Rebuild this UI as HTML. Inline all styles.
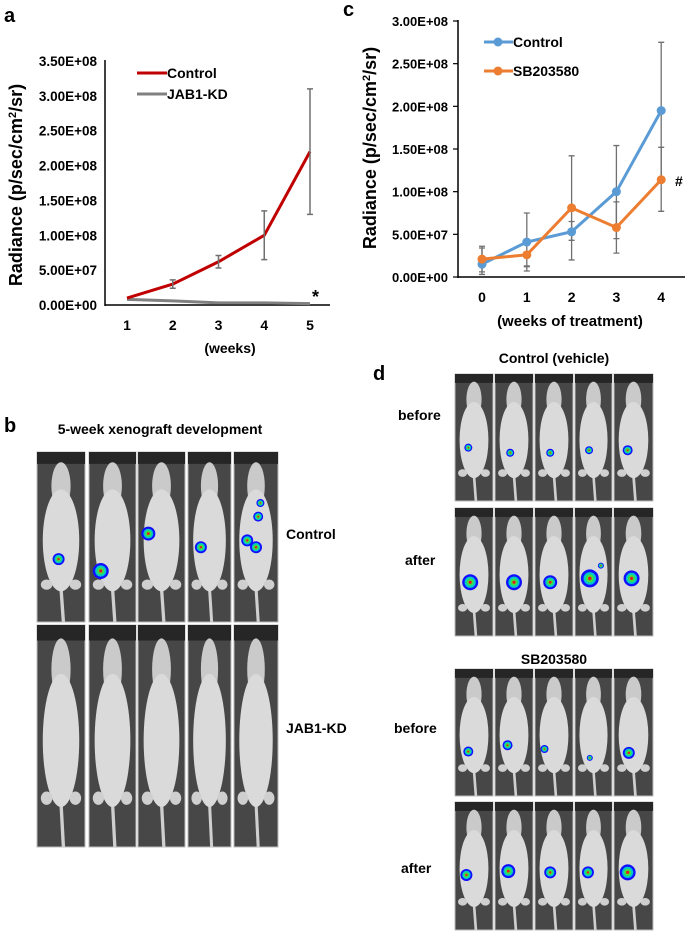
<!DOCTYPE html>
<html><head><meta charset="utf-8">
<style>
html,body{margin:0;padding:0;background:#fff;}
body{width:685px;height:932px;overflow:hidden;font-family:"Liberation Sans",Arial,sans-serif;}
svg text{font-family:"Liberation Sans",Arial,sans-serif;font-weight:bold;}
</style></head>
<body>
<svg id="fig" width="685" height="932" viewBox="0 0 685 932" xmlns="http://www.w3.org/2000/svg">
  <text x="4" y="22" font-size="20">a</text>
  <text x="4" y="432" font-size="20">b</text>
  <text x="343" y="16" font-size="20">c</text>
  <text x="373" y="380" font-size="20">d</text>

  <g id="chartA"></g>
  <g id="chartC"></g>

  <text x="160" y="434" font-size="14" text-anchor="middle">5-week xenograft development</text>
  <text x="286" y="539" font-size="14">Control</text>
  <text x="286" y="733" font-size="14">JAB1-KD</text>

  <text x="554" y="363" font-size="14" text-anchor="middle">Control (vehicle)</text>
  <text x="398" y="420" font-size="14">before</text>
  <text x="405" y="565" font-size="14">after</text>
  <text x="554" y="664" font-size="14" text-anchor="middle">SB203580</text>
  <text x="394" y="733" font-size="14">before</text>
  <text x="401" y="873" font-size="14">after</text>

  <g id="photos"></g>
</svg>
<script>
const NS="http://www.w3.org/2000/svg";
function mk(tag,attrs,parent){const e=document.createElementNS(NS,tag);for(const k in attrs)e.setAttribute(k,attrs[k]);parent.appendChild(e);return e;}

// ---- Chart A data ----
const weeksA=[1,2,3,4,5];
const controlA=[1.0e7,3.0e7,6.2e7,1.0e8,2.2e8];
const controlAErr=[0,0.6e7,0.9e7,3.5e7,9.0e7];
const jabA=[0.8e7,0.6e7,0.3e7,0.3e7,0.2e7];
const ticksA=[0,5e7,1e8,1.5e8,2e8,2.5e8,3e8,3.5e8];
const tickLabelsA=["0.00E+00","5.00E+07","1.00E+08","1.50E+08","2.00E+08","2.50E+08","3.00E+08","3.50E+08"];

(function(){
  const g=document.getElementById('chartA');
  const y=v=>305-(v/3.5e8)*244;
  const x=w=>127+(w-1)*45.75;
  let e=mk('line',{x1:105,y1:60,x2:105,y2:306,stroke:'#000','stroke-width':1.5},g);
  
  
  e=mk('line',{x1:105,y1:305,x2:330,y2:305,stroke:'#000','stroke-width':1.5},g);
  
  
  ticksA.forEach((t,i)=>{
    const tl=mk('text',{x:97,y:y(t)+5,'font-size':13.5,'text-anchor':'end'},g);
    tl.textContent=tickLabelsA[i];
    
    
  });
  weeksA.forEach(w=>{
    const tl=mk('text',{x:x(w),y:330,'font-size':14,'text-anchor':'middle'},g);
    tl.textContent=w;
    
    
  });
  const xt=mk('text',{x:230,y:353,'font-size':14,'text-anchor':'middle'},g);
  xt.textContent='(weeks)';
  
  
  const yt=mk('text',{x:0,y:0,'font-size':18,'text-anchor':'middle',transform:'translate(22,185) rotate(-90)'},g);
  yt.innerHTML='Radiance (p/sec/cm<tspan font-size="11" dy="-6">2</tspan><tspan dy="6">/sr)</tspan>';
  
  
  let p=mk('polyline',{points:weeksA.map((w,i)=>x(w)+','+y(jabA[i])).join(' '),fill:'none',stroke:'#808080','stroke-width':3},g);
  
  
  p=mk('polyline',{points:weeksA.map((w,i)=>x(w)+','+y(controlA[i])).join(' '),fill:'none',stroke:'#c00000','stroke-width':3},g);
  
  
  weeksA.forEach((w,i)=>{
    if(!controlAErr[i])return;
    const lo=y(controlA[i]-controlAErr[i]),hi=y(controlA[i]+controlAErr[i]),xx=x(w);
    const eb=mk('path',{d:`M${xx},${lo}V${hi}M${xx-3},${lo}H${xx+3}M${xx-3},${hi}H${xx+3}`,stroke:'#707070','stroke-width':1.5,fill:'none'},g);
    
    
  });
  const st=mk('text',{x:312,y:303,'font-size':18},g);st.textContent='*';
  
  
  let l=mk('line',{x1:137,y1:73,x2:167,y2:73,stroke:'#c00000','stroke-width':3},g);
  
  
  let lt=mk('text',{x:167,y:78,'font-size':14},g);lt.textContent='Control';
  
  
  l=mk('line',{x1:137,y1:94,x2:167,y2:94,stroke:'#808080','stroke-width':3},g);
  
  
  lt=mk('text',{x:167,y:99,'font-size':14},g);lt.textContent='JAB1-KD';
  
  
})();

// ---- Chart C data ----
const weeksC=[0,1,2,3,4];
const controlC=[1.5e7,4.1e7,5.3e7,1.0e8,1.95e8];
const controlCLo=[0.3e7,1.3e7,4.3e7,4.5e7,1.15e8];
const controlCHi=[3.4e7,7.5e7,6.5e7,1.54e8,2.75e8];
const sbC=[2.1e7,2.6e7,8.1e7,5.8e7,1.14e8];
const sbCLo=[0.6e7,0.7e7,2.0e7,2.8e7,0.77e8];
const sbCHi=[3.6e7,1.2e7,1.42e8,8.8e7,1.52e8];
const ticksC=[0,5e7,1e8,1.5e8,2e8,2.5e8,3e8];
const tickLabelsC=["0.00E+00","5.00E+07","1.00E+08","1.50E+08","2.00E+08","2.50E+08","3.00E+08"];

(function(){
  const g=document.getElementById('chartC');
  const y=v=>277-(v/3e8)*256;
  const x=w=>482+w*44.8;
  let e=mk('line',{x1:458,y1:20,x2:458,y2:278,stroke:'#000','stroke-width':1.5},g);
  
  
  e=mk('line',{x1:458,y1:277,x2:685,y2:277,stroke:'#000','stroke-width':1.5},g);
  
  
  ticksC.forEach((t,i)=>{
    const tk=mk('line',{x1:453,y1:y(t),x2:458,y2:y(t),stroke:'#000','stroke-width':1.2},g);
    
    
    const tl=mk('text',{x:448,y:y(t)+5,'font-size':13,'text-anchor':'end'},g);
    tl.textContent=tickLabelsC[i];
    
    
  });
  weeksC.forEach(w=>{
    const tl=mk('text',{x:x(w),y:302,'font-size':14,'text-anchor':'middle'},g);
    tl.textContent=w;
    
    
  });
  const xt=mk('text',{x:570,y:326,'font-size':15,'text-anchor':'middle'},g);
  xt.textContent='(weeks of treatment)';
  
  
  const yt=mk('text',{x:0,y:0,'font-size':18,'text-anchor':'middle',transform:'translate(376,148) rotate(-90)'},g);
  yt.innerHTML='Radiance (p/sec/cm<tspan font-size="11" dy="-6">2</tspan><tspan dy="6">/sr)</tspan>';
  
  
  function errs(lo,hi,name){
    weeksC.forEach((w,i)=>{
      const a=y(lo[i]),b=y(hi[i]),xx=x(w);
      const eb=mk('path',{d:`M${xx},${a}V${b}M${xx-3},${a}H${xx+3}M${xx-3},${b}H${xx+3}`,stroke:'#707070','stroke-width':1.3,fill:'none'},g);
      
      
    });
  }
  errs(controlCLo,controlCHi,'control-error-bar');
  errs(sbCLo,sbCHi,'sb203580-error-bar');
  function series(vals,col,name){
    const p=mk('polyline',{points:weeksC.map((w,i)=>x(w)+','+y(vals[i])).join(' '),fill:'none',stroke:col,'stroke-width':3},g);
    
    
    weeksC.forEach((w,i)=>{
      const c=mk('circle',{cx:x(w),cy:y(vals[i]),r:4.5,fill:col},g);
      
      
    });
  }
  series(controlC,'#5b9bd5','control');
  series(sbC,'#ed7d31','sb203580');
  const h=mk('text',{x:675,y:186,'font-size':14},g);h.textContent='#';
  
  
  [['Control','#5b9bd5',42],['SB203580','#ed7d31',71]].forEach(([t,c,yy])=>{
    const l=mk('line',{x1:484,y1:yy,x2:513,y2:yy,stroke:c,'stroke-width':3},g);
    
    
    const d=mk('circle',{cx:498,cy:yy,r:4.5,fill:c},g);
    
    
    const lt=mk('text',{x:513,y:yy+5,'font-size':14},g);lt.textContent=t;
    
    
  });
})();

// ---- Mouse photos (illustrative) ----
(function(){
  const g=document.getElementById('photos');
  function mouse(x0,y0,w,h,spots){
    const grp=mk('g',{},g);
    
    
    mk('rect',{x:x0,y:y0,width:w,height:h,fill:'#474747',stroke:'#bbb','stroke-width':1},grp);
    mk('rect',{x:x0,y:y0,width:w,height:h*0.07,fill:'#262626'},grp);
    const cx=x0+w/2;
    mk('line',{x1:cx,y1:y0+h*0.8,x2:cx+w*0.05,y2:y0+h,stroke:'#cfcfcf','stroke-width':Math.max(2,w*0.07)},grp);
    mk('ellipse',{cx:cx,cy:y0+h*0.2,rx:w*0.2,ry:h*0.14,fill:'#cacaca'},grp);
    mk('ellipse',{cx:cx,cy:y0+h*0.52,rx:w*0.38,ry:h*0.3,fill:'#dadada'},grp);
    mk('ellipse',{cx:cx-w*0.3,cy:y0+h*0.78,rx:w*0.12,ry:h*0.03,fill:'#cfcfcf'},grp);
    mk('ellipse',{cx:cx+w*0.3,cy:y0+h*0.78,rx:w*0.12,ry:h*0.03,fill:'#cfcfcf'},grp);
    (spots||[]).forEach(([fx,fy,r])=>{
      const sx=x0+fx*w,sy=y0+fy*h;
      mk('circle',{cx:sx,cy:sy,r:r,fill:'#1010ff'},grp);
      mk('circle',{cx:sx,cy:sy,r:r*0.7,fill:'#00c8c8'},grp);
      mk('circle',{cx:sx,cy:sy,r:r*0.45,fill:'#40e040'},grp);
      mk('circle',{cx:sx,cy:sy,r:r*0.2,fill:'#e02020'},grp);
    });
  }
  const bCols=[[37,48],[89,47],[138,47],[188,43],[234,44]];
  const bCtrlSpots=[[[0.45,0.63,6]],[[0.25,0.7,8]],[[0.22,0.48,7]],[[0.3,0.56,6]],[[0.3,0.52,6],[0.5,0.56,6],[0.55,0.38,5],[0.6,0.3,4]]];
  bCols.forEach(([x,w],i)=>mouse(x,452,w,170,bCtrlSpots[i]));
  bCols.forEach(([x,w],i)=>mouse(x,625,w,222,[]));
  const dCols=[[455,38],[495,38],[535,38],[575,37],[614,39]];
  const dBefore=[[[0.35,0.58,4]],[[0.4,0.62,4]],[[0.4,0.62,4]],[[0.38,0.6,4]],[[0.35,0.6,5]]];
  const dAfter=[[[0.4,0.58,8]],[[0.5,0.58,8]],[[0.4,0.58,7]],[[0.4,0.55,9],[0.7,0.45,3]],[[0.45,0.55,8]]];
  const sBefore=[[[0.35,0.65,5]],[[0.33,0.6,5]],[[0.25,0.63,4]],[[0.4,0.7,3]],[[0.38,0.66,6]]];
  const sAfter=[[[0.3,0.57,6]],[[0.35,0.54,7]],[[0.4,0.55,6]],[[0.35,0.55,6]],[[0.35,0.55,8]]];
  dCols.forEach(([x,w],i)=>mouse(x,374,w,127,dBefore[i]));
  dCols.forEach(([x,w],i)=>mouse(x,508,w,128,dAfter[i]));
  dCols.forEach(([x,w],i)=>mouse(x,669,w,127,sBefore[i]));
  dCols.forEach(([x,w],i)=>mouse(x,802,w,128,sAfter[i]));
})();
</script>
</body></html>
